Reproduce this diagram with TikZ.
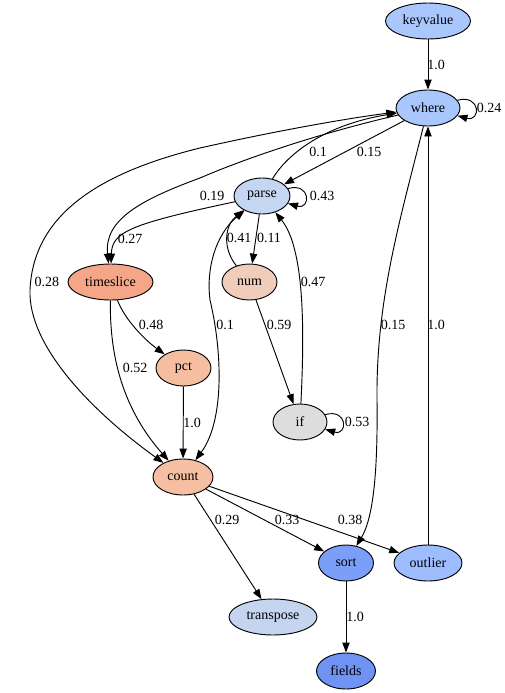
\documentclass[tikz,border=0pt]{standalone}
\usepackage{fontspec}
\setmainfont{Liberation Serif}
\usetikzlibrary{shapes.geometric,arrows.meta}
\definecolor{cKey}{HTML}{AAC7FD}
\definecolor{cWhere}{HTML}{AAC7FD}
\definecolor{cParse}{HTML}{C5D6F2}
\definecolor{cTime}{HTML}{F5A688}
\definecolor{cNum}{HTML}{F0CDBB}
\definecolor{cPct}{HTML}{F6BEA1}
\definecolor{cCount}{HTML}{F6BFA4}
\definecolor{cIf}{HTML}{DDDDDD}
\definecolor{cSort}{HTML}{7B9FF9}
\definecolor{cOut}{HTML}{9DBDFF}
\definecolor{cTrans}{HTML}{C5D5F0}
\definecolor{cFields}{HTML}{6F92F3}
\tikzset{
  gnode/.style={ellipse, draw=black, line width=0.7pt, minimum height=27pt, inner sep=0pt,
    font=\fontsize{10.5}{12}\selectfont},
  arr/.style={draw=black, line width=0.7pt, -{Triangle[length=7.5pt,width=5.5pt]}},
  barr/.style={draw=black, line width=0.7pt, {Triangle[length=7.5pt,width=5.5pt]}-{Triangle[length=7.5pt,width=5.5pt]}},
  lbl/.style={inner sep=0pt, font=\fontsize{10.5}{12}\selectfont}
}
\begin{document}
\begin{tikzpicture}[x=0.75pt,y=-0.75pt]
\useasboundingbox (0,0) rectangle (504,693);
% nodes
\node[gnode, fill=cKey, minimum width=63.75pt] (keyvalue) at (428,21) {keyvalue};
\node[gnode, fill=cWhere, minimum width=48pt] (where) at (428,108) {where};
\node[gnode, fill=cParse, minimum width=42pt] (parse) at (262,196) {parse};
\node[gnode, fill=cTime, minimum width=63.75pt] (timeslice) at (110.5,282) {timeslice};
\node[gnode, fill=cNum, minimum width=41.25pt] (num) at (249.5,282) {num};
\node[gnode, fill=cPct, minimum width=41.25pt] (pct) at (183.5,368) {pct};
\node[gnode, fill=cIf, minimum width=40.5pt] (if) at (300,422) {if};
\node[gnode, fill=cCount, minimum width=45pt] (count) at (183,477) {count};
\node[gnode, fill=cSort, minimum width=41.25pt] (sort) at (346,563) {sort};
\node[gnode, fill=cOut, minimum width=51pt] (outlier) at (428,563) {outlier};
\node[gnode, fill=cTrans, minimum width=66pt] (transpose) at (273,617) {transpose};
\node[gnode, fill=cFields, minimum width=44.25pt] (fields) at (346,671) {fields};
% edges
\draw[arr] (keyvalue) -- (where);
\node[lbl] (l1) at (436,65) {1.0};
\draw[arr] (where) .. controls (481,94) and (481,122) .. (where);
\node[lbl] (l2) at (489,108) {0.24};
\draw[arr] (where) -- (parse);
\node[lbl] (l3) at (369,152) {0.15};
\draw[arr] (parse) .. controls (290,150) and (330,124) .. (where);
\node[lbl] (l4) at (318,152) {0.1};
\draw[arr] (where) .. controls (300,138) and (230,165) .. (200,178) .. controls (140,200) and (104,220) .. (timeslice);
\node[lbl] (l5) at (212,196) {0.19};
\draw[arr] (parse) .. controls (130,224) and (112,232) .. (timeslice);
\node[lbl] (l6) at (130,239) {0.27};
\draw[barr] (count) .. controls (90,410) and (28,345) .. (30,290) .. controls (33,220) and (90,175) .. (200,148) .. controls (280,130) and (350,118) .. (where);
\node[lbl] (l7) at (47,282) {0.28};
\draw[arr] (parse) .. controls (311,182) and (311,210) .. (parse);
\node[lbl] (l8) at (322,196) {0.43};
\draw[arr] (parse) -- (num);
\node[lbl] (l9) at (269,238) {0.11};
\draw[arr] (num) .. controls (222,248) and (225,225) .. (parse);
\node[lbl] (l10) at (239,238) {0.41};
\draw[barr] (parse) .. controls (215,235) and (206,270) .. (210,300) .. controls (222,350) and (225,420) .. (count);
\node[lbl] (l11) at (225,325) {0.1};
\draw[arr] (if) .. controls (304,340) and (306,250) .. (parse);
\node[lbl] (l12) at (313,282) {0.47};
\draw[arr] (num) -- (if);
\node[lbl] (l13) at (279,325) {0.59};
\draw[arr] (if) .. controls (348,408) and (348,436) .. (if);
\node[lbl] (l14) at (357,422) {0.53};
\draw[arr] (where) .. controls (400,220) and (376,300) .. (377,400) .. controls (378,480) and (372,520) .. (sort);
\node[lbl] (l15) at (393,325) {0.15};
\draw[arr] (outlier) -- (where);
\node[lbl] (l16) at (436,325) {1.0};
\draw[arr] (timeslice) .. controls (125,320) and (145,340) .. (pct);
\node[lbl] (l17) at (151,325) {0.48};
\draw[arr] (timeslice) .. controls (110,340) and (115,400) .. (count);
\node[lbl] (l18) at (135,368) {0.52};
\draw[arr] (pct) -- (count);
\node[lbl] (l19) at (192,423) {1.0};
\draw[arr] (count) -- (transpose);
\node[lbl] (l20) at (227,520) {0.29};
\draw[arr] (count) -- (sort);
\node[lbl] (l21) at (287,520) {0.33};
\draw[arr] (count) -- (outlier);
\node[lbl] (l22) at (350,520) {0.38};
\draw[arr] (sort) -- (fields);
\node[lbl] (l23) at (355,617) {1.0};
\end{tikzpicture}
\end{document}
